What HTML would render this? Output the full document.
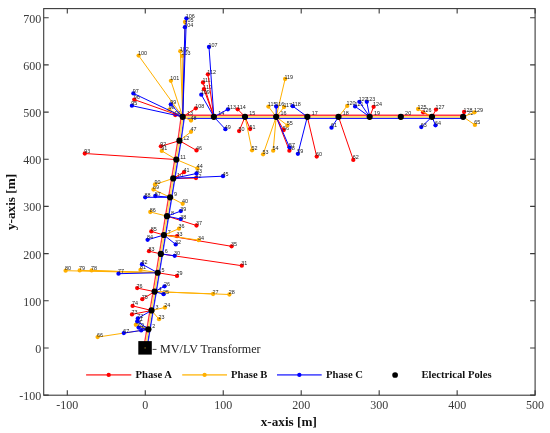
<!DOCTYPE html>
<html><head><meta charset="utf-8"><title>Network</title>
<style>html,body{margin:0;padding:0;background:#fff;}svg{display:block;filter:blur(0.25px);}.l{font-family:'Liberation Sans',Arial,sans-serif;font-size:5.6px;fill:#222;}</style></head>
<body><svg width="550" height="433" viewBox="0 0 550 433">
<rect width="550" height="433" fill="#fff"/>
<polyline points="143.82,347.55 146.94,329.09 150.04,310.23 153.14,291.36 156.24,272.5 159.34,253.64 162.44,234.77 165.54,215.91 168.64,197.04 171.74,178.18 174.84,159.32 177.94,140.47 181.39,115.3 213.86,115.3 245.02,115.3 276.18,115.3 307.34,115.3 338.5,115.3 369.66,115.3 400.82,115.3 431.98,115.3 463.14,115.3" fill="none" stroke="#ff3548" stroke-width="1.4" stroke-linejoin="miter"/>
<polyline points="146.83,348.06 149.94,329.59 153.05,310.72 156.15,291.86 159.25,273 162.35,254.13 165.45,235.27 168.55,216.4 171.65,197.54 174.75,178.68 177.85,159.81 180.96,140.93 184.05,118.35 213.86,118.35 245.02,118.35 276.18,118.35 307.34,118.35 338.5,118.35 369.66,118.35 400.82,118.35 431.98,118.35 463.14,118.35" fill="none" stroke="#1f1fff" stroke-width="1.5" stroke-linejoin="miter"/>
<polyline points="145.3,347.8 148.42,329.34 151.52,310.47 154.62,291.61 157.72,272.74 160.82,253.88 163.92,235.02 167.02,216.15 170.12,197.29 173.22,178.42 176.33,159.56 179.43,140.7 182.7,116.8 213.86,116.8 245.02,116.8 276.18,116.8 307.34,116.8 338.5,116.8 369.66,116.8 400.82,116.8 431.98,116.8 463.14,116.8" fill="none" stroke="#ffe066" stroke-width="1.7" stroke-linejoin="miter"/>
<text class="l" transform="translate(152.32,328.34) scale(0.97,1)">2</text><text class="l" transform="translate(155.42,309.47) scale(0.97,1)">3</text><text class="l" transform="translate(158.52,290.61) scale(0.97,1)">4</text><text class="l" transform="translate(161.62,271.74) scale(0.97,1)">5</text><text class="l" transform="translate(164.72,252.88) scale(0.97,1)">6</text><text class="l" transform="translate(167.82,234.02) scale(0.97,1)">7</text><text class="l" transform="translate(170.92,215.15) scale(0.97,1)">8</text><text class="l" transform="translate(174.02,196.29) scale(0.97,1)">9</text><text class="l" transform="translate(177.12,177.42) scale(0.97,1)">10</text><text class="l" transform="translate(180.23,158.56) scale(0.97,1)">11</text><text class="l" transform="translate(183.33,139.7) scale(0.97,1)">12</text><text class="l" transform="translate(187,114.8) scale(0.97,1)">13</text><text class="l" transform="translate(218.16,114.8) scale(0.97,1)">14</text><text class="l" transform="translate(249.32,114.8) scale(0.97,1)">15</text><text class="l" transform="translate(280.48,114.8) scale(0.97,1)">16</text><text class="l" transform="translate(311.64,114.8) scale(0.97,1)">17</text><text class="l" transform="translate(342.8,114.8) scale(0.97,1)">18</text><text class="l" transform="translate(373.96,114.8) scale(0.97,1)">19</text><text class="l" transform="translate(405.12,114.8) scale(0.97,1)">20</text><text class="l" transform="translate(467.44,114.8) scale(0.97,1)">22</text>
<line x1="157.72" y1="272.74" x2="177" y2="275.9" stroke="#ff0000" stroke-width="1"/>
<circle cx="177" cy="275.9" r="2.15" fill="#ff0000"/>
<text class="l" transform="translate(176.4,275.4) scale(0.97,1)">29</text>
<line x1="160.82" y1="253.88" x2="241.8" y2="265.7" stroke="#ff0000" stroke-width="1"/>
<circle cx="241.8" cy="265.7" r="2.15" fill="#ff0000"/>
<text class="l" transform="translate(241.2,265.2) scale(0.97,1)">31</text>
<line x1="163.92" y1="235.02" x2="177.1" y2="236.2" stroke="#ff0000" stroke-width="1"/>
<circle cx="177.1" cy="236.2" r="2.15" fill="#ff0000"/>
<text class="l" transform="translate(176.5,235.7) scale(0.97,1)">33</text>
<line x1="163.92" y1="235.02" x2="231.6" y2="246.3" stroke="#ff0000" stroke-width="1"/>
<circle cx="231.6" cy="246.3" r="2.15" fill="#ff0000"/>
<text class="l" transform="translate(231,245.8) scale(0.97,1)">35</text>
<line x1="167.02" y1="216.15" x2="196.5" y2="225.5" stroke="#ff0000" stroke-width="1"/>
<circle cx="196.5" cy="225.5" r="2.15" fill="#ff0000"/>
<text class="l" transform="translate(195.9,225) scale(0.97,1)">37</text>
<line x1="173.22" y1="178.42" x2="184" y2="172.2" stroke="#ff0000" stroke-width="1"/>
<circle cx="184" cy="172.2" r="2.15" fill="#ff0000"/>
<text class="l" transform="translate(183.4,171.7) scale(0.97,1)">41</text>
<line x1="173.22" y1="178.42" x2="196" y2="178.1" stroke="#ff0000" stroke-width="1"/>
<circle cx="196" cy="178.1" r="2.15" fill="#ff0000"/>
<text class="l" transform="translate(195.4,177.6) scale(0.97,1)">42</text>
<line x1="179.43" y1="140.7" x2="196.5" y2="150.4" stroke="#ff0000" stroke-width="1"/>
<circle cx="196.5" cy="150.4" r="2.15" fill="#ff0000"/>
<text class="l" transform="translate(195.9,149.9) scale(0.97,1)">46</text>
<line x1="245.02" y1="116.8" x2="239.1" y2="131.1" stroke="#ff0000" stroke-width="1"/>
<circle cx="239.1" cy="131.1" r="2.15" fill="#ff0000"/>
<text class="l" transform="translate(238.5,130.6) scale(0.97,1)">50</text>
<line x1="245.02" y1="116.8" x2="250.1" y2="129" stroke="#ff0000" stroke-width="1"/>
<circle cx="250.1" cy="129" r="2.15" fill="#ff0000"/>
<text class="l" transform="translate(249.5,128.5) scale(0.97,1)">51</text>
<line x1="276.18" y1="116.8" x2="283.7" y2="130" stroke="#ff0000" stroke-width="1"/>
<circle cx="283.7" cy="130" r="2.15" fill="#ff0000"/>
<text class="l" transform="translate(283.1,129.5) scale(0.97,1)">56</text>
<line x1="276.18" y1="116.8" x2="289.4" y2="150.7" stroke="#ff0000" stroke-width="1"/>
<circle cx="289.4" cy="150.7" r="2.15" fill="#ff0000"/>
<text class="l" transform="translate(288.8,150.2) scale(0.97,1)">58</text>
<line x1="307.34" y1="116.8" x2="316.7" y2="156.6" stroke="#ff0000" stroke-width="1"/>
<circle cx="316.7" cy="156.6" r="2.15" fill="#ff0000"/>
<text class="l" transform="translate(316.1,156.1) scale(0.97,1)">60</text>
<line x1="338.5" y1="116.8" x2="353.3" y2="159.9" stroke="#ff0000" stroke-width="1"/>
<circle cx="353.3" cy="159.9" r="2.15" fill="#ff0000"/>
<text class="l" transform="translate(352.7,159.4) scale(0.97,1)">62</text>
<line x1="151.52" y1="310.47" x2="132" y2="314.4" stroke="#ff0000" stroke-width="1"/>
<circle cx="132" cy="314.4" r="2.15" fill="#ff0000"/>
<text class="l" transform="translate(131.4,313.9) scale(0.97,1)">73</text>
<line x1="151.52" y1="310.47" x2="132.6" y2="305.9" stroke="#ff0000" stroke-width="1"/>
<circle cx="132.6" cy="305.9" r="2.15" fill="#ff0000"/>
<text class="l" transform="translate(132,305.4) scale(0.97,1)">74</text>
<line x1="154.62" y1="291.61" x2="142.3" y2="299.2" stroke="#ff0000" stroke-width="1"/>
<circle cx="142.3" cy="299.2" r="2.15" fill="#ff0000"/>
<text class="l" transform="translate(141.7,298.7) scale(0.97,1)">75</text>
<line x1="154.62" y1="291.61" x2="137.2" y2="288.1" stroke="#ff0000" stroke-width="1"/>
<circle cx="137.2" cy="288.1" r="2.15" fill="#ff0000"/>
<text class="l" transform="translate(136.6,287.6) scale(0.97,1)">76</text>
<line x1="160.82" y1="253.88" x2="149" y2="251.2" stroke="#ff0000" stroke-width="1"/>
<circle cx="149" cy="251.2" r="2.15" fill="#ff0000"/>
<text class="l" transform="translate(148.4,250.7) scale(0.97,1)">83</text>
<line x1="163.92" y1="235.02" x2="151.3" y2="231.4" stroke="#ff0000" stroke-width="1"/>
<circle cx="151.3" cy="231.4" r="2.15" fill="#ff0000"/>
<text class="l" transform="translate(150.7,230.9) scale(0.97,1)">85</text>
<line x1="179.43" y1="140.7" x2="160.9" y2="146.3" stroke="#ff0000" stroke-width="1"/>
<circle cx="160.9" cy="146.3" r="2.15" fill="#ff0000"/>
<text class="l" transform="translate(160.3,145.8) scale(0.97,1)">92</text>
<line x1="176.33" y1="159.56" x2="84.8" y2="153.5" stroke="#ff0000" stroke-width="1"/>
<circle cx="84.8" cy="153.5" r="2.15" fill="#ff0000"/>
<text class="l" transform="translate(84.2,153) scale(0.97,1)">93</text>
<line x1="182.7" y1="116.8" x2="175.3" y2="115" stroke="#ff0000" stroke-width="1"/>
<circle cx="175.3" cy="115" r="2.15" fill="#ff0000"/>
<text class="l" transform="translate(174.7,114.5) scale(0.97,1)">94</text>
<line x1="182.7" y1="116.8" x2="134.3" y2="99.6" stroke="#ff0000" stroke-width="1"/>
<circle cx="134.3" cy="99.6" r="2.15" fill="#ff0000"/>
<text class="l" transform="translate(133.7,99.1) scale(0.97,1)">96</text>
<line x1="182.7" y1="116.8" x2="195.8" y2="108.3" stroke="#ff0000" stroke-width="1"/>
<circle cx="195.8" cy="108.3" r="2.15" fill="#ff0000"/>
<text class="l" transform="translate(195.2,107.8) scale(0.97,1)">108</text>
<line x1="213.86" y1="116.8" x2="203.9" y2="89.1" stroke="#ff0000" stroke-width="1"/>
<circle cx="203.9" cy="89.1" r="2.15" fill="#ff0000"/>
<text class="l" transform="translate(203.3,88.6) scale(0.97,1)">110</text>
<line x1="213.86" y1="116.8" x2="203" y2="82.5" stroke="#ff0000" stroke-width="1"/>
<circle cx="203" cy="82.5" r="2.15" fill="#ff0000"/>
<text class="l" transform="translate(202.4,82) scale(0.97,1)">111</text>
<line x1="213.86" y1="116.8" x2="207.9" y2="74.3" stroke="#ff0000" stroke-width="1"/>
<circle cx="207.9" cy="74.3" r="2.15" fill="#ff0000"/>
<text class="l" transform="translate(207.3,73.8) scale(0.97,1)">112</text>
<line x1="245.02" y1="116.8" x2="237.7" y2="109.3" stroke="#ff0000" stroke-width="1"/>
<circle cx="237.7" cy="109.3" r="2.15" fill="#ff0000"/>
<text class="l" transform="translate(237.1,108.8) scale(0.97,1)">114</text>
<line x1="369.66" y1="116.8" x2="373.6" y2="106.8" stroke="#ff0000" stroke-width="1"/>
<circle cx="373.6" cy="106.8" r="2.15" fill="#ff0000"/>
<text class="l" transform="translate(373,106.3) scale(0.97,1)">124</text>
<line x1="431.98" y1="116.8" x2="423.1" y2="112.3" stroke="#ff0000" stroke-width="1"/>
<circle cx="423.1" cy="112.3" r="2.15" fill="#ff0000"/>
<text class="l" transform="translate(422.5,111.8) scale(0.97,1)">126</text>
<line x1="431.98" y1="116.8" x2="436" y2="109.6" stroke="#ff0000" stroke-width="1"/>
<circle cx="436" cy="109.6" r="2.15" fill="#ff0000"/>
<text class="l" transform="translate(435.4,109.1) scale(0.97,1)">127</text>
<line x1="463.14" y1="116.8" x2="464.1" y2="112" stroke="#ff0000" stroke-width="1"/>
<circle cx="464.1" cy="112" r="2.15" fill="#ff0000"/>
<text class="l" transform="translate(463.5,111.5) scale(0.97,1)">128</text>
<line x1="151.52" y1="310.47" x2="159" y2="319.2" stroke="#ffb000" stroke-width="1"/>
<circle cx="159" cy="319.2" r="2.15" fill="#ffb000"/>
<text class="l" transform="translate(158.4,318.7) scale(0.97,1)">23</text>
<line x1="151.52" y1="310.47" x2="164.9" y2="307.5" stroke="#ffb000" stroke-width="1"/>
<circle cx="164.9" cy="307.5" r="2.15" fill="#ffb000"/>
<text class="l" transform="translate(164.3,307) scale(0.97,1)">24</text>
<line x1="154.62" y1="291.61" x2="213.1" y2="294" stroke="#ffb000" stroke-width="1"/>
<circle cx="213.1" cy="294" r="2.15" fill="#ffb000"/>
<text class="l" transform="translate(212.5,293.5) scale(0.97,1)">27</text>
<line x1="154.62" y1="291.61" x2="229.4" y2="294.5" stroke="#ffb000" stroke-width="1"/>
<circle cx="229.4" cy="294.5" r="2.15" fill="#ffb000"/>
<text class="l" transform="translate(228.8,294) scale(0.97,1)">28</text>
<line x1="163.92" y1="235.02" x2="198.7" y2="240.2" stroke="#ffb000" stroke-width="1"/>
<circle cx="198.7" cy="240.2" r="2.15" fill="#ffb000"/>
<text class="l" transform="translate(198.1,239.7) scale(0.97,1)">34</text>
<line x1="163.92" y1="235.02" x2="179" y2="228.7" stroke="#ffb000" stroke-width="1"/>
<circle cx="179" cy="228.7" r="2.15" fill="#ffb000"/>
<text class="l" transform="translate(178.4,228.2) scale(0.97,1)">36</text>
<line x1="170.12" y1="197.29" x2="182.7" y2="203.8" stroke="#ffb000" stroke-width="1"/>
<circle cx="182.7" cy="203.8" r="2.15" fill="#ffb000"/>
<text class="l" transform="translate(182.1,203.3) scale(0.97,1)">40</text>
<line x1="176.33" y1="159.56" x2="197.4" y2="168.4" stroke="#ffb000" stroke-width="1"/>
<circle cx="197.4" cy="168.4" r="2.15" fill="#ffb000"/>
<text class="l" transform="translate(196.8,167.9) scale(0.97,1)">44</text>
<line x1="179.43" y1="140.7" x2="191" y2="131.8" stroke="#ffb000" stroke-width="1"/>
<circle cx="191" cy="131.8" r="2.15" fill="#ffb000"/>
<text class="l" transform="translate(190.4,131.3) scale(0.97,1)">47</text>
<line x1="182.7" y1="116.8" x2="191" y2="120.5" stroke="#ffb000" stroke-width="1"/>
<circle cx="191" cy="120.5" r="2.15" fill="#ffb000"/>
<text class="l" transform="translate(190.4,120) scale(0.97,1)">48</text>
<line x1="245.02" y1="116.8" x2="252" y2="150.3" stroke="#ffb000" stroke-width="1"/>
<circle cx="252" cy="150.3" r="2.15" fill="#ffb000"/>
<text class="l" transform="translate(251.4,149.8) scale(0.97,1)">52</text>
<line x1="276.18" y1="116.8" x2="263.1" y2="154.3" stroke="#ffb000" stroke-width="1"/>
<circle cx="263.1" cy="154.3" r="2.15" fill="#ffb000"/>
<text class="l" transform="translate(262.5,153.8) scale(0.97,1)">53</text>
<line x1="276.18" y1="116.8" x2="273.2" y2="150.7" stroke="#ffb000" stroke-width="1"/>
<circle cx="273.2" cy="150.7" r="2.15" fill="#ffb000"/>
<text class="l" transform="translate(272.6,150.2) scale(0.97,1)">54</text>
<line x1="276.18" y1="116.8" x2="287.4" y2="125.4" stroke="#ffb000" stroke-width="1"/>
<circle cx="287.4" cy="125.4" r="2.15" fill="#ffb000"/>
<text class="l" transform="translate(286.8,124.9) scale(0.97,1)">55</text>
<line x1="463.14" y1="116.8" x2="474.9" y2="124.9" stroke="#ffb000" stroke-width="1"/>
<circle cx="474.9" cy="124.9" r="2.15" fill="#ffb000"/>
<text class="l" transform="translate(474.3,124.4) scale(0.97,1)">65</text>
<line x1="148.42" y1="329.34" x2="97.6" y2="337.1" stroke="#ffb000" stroke-width="1"/>
<circle cx="97.6" cy="337.1" r="2.15" fill="#ffb000"/>
<text class="l" transform="translate(97,336.6) scale(0.97,1)">66</text>
<line x1="148.42" y1="329.34" x2="135.8" y2="324.8" stroke="#ffb000" stroke-width="1"/>
<circle cx="135.8" cy="324.8" r="2.15" fill="#ffb000"/>
<text class="l" transform="translate(135.2,324.3) scale(0.97,1)">68</text>
<line x1="157.72" y1="272.74" x2="91.6" y2="270.4" stroke="#ffb000" stroke-width="1"/>
<circle cx="91.6" cy="270.4" r="2.15" fill="#ffb000"/>
<text class="l" transform="translate(91,269.9) scale(0.97,1)">78</text>
<line x1="157.72" y1="272.74" x2="79.7" y2="270.4" stroke="#ffb000" stroke-width="1"/>
<circle cx="79.7" cy="270.4" r="2.15" fill="#ffb000"/>
<text class="l" transform="translate(79.1,269.9) scale(0.97,1)">79</text>
<line x1="157.72" y1="272.74" x2="65.6" y2="270.7" stroke="#ffb000" stroke-width="1"/>
<circle cx="65.6" cy="270.7" r="2.15" fill="#ffb000"/>
<text class="l" transform="translate(65,270.2) scale(0.97,1)">80</text>
<line x1="157.72" y1="272.74" x2="140.5" y2="269.9" stroke="#ffb000" stroke-width="1"/>
<circle cx="140.5" cy="269.9" r="2.15" fill="#ffb000"/>
<text class="l" transform="translate(139.9,269.4) scale(0.97,1)">81</text>
<line x1="167.02" y1="216.15" x2="150.3" y2="212" stroke="#ffb000" stroke-width="1"/>
<circle cx="150.3" cy="212" r="2.15" fill="#ffb000"/>
<text class="l" transform="translate(149.7,211.5) scale(0.97,1)">86</text>
<line x1="170.12" y1="197.29" x2="153.5" y2="189.5" stroke="#ffb000" stroke-width="1"/>
<circle cx="153.5" cy="189.5" r="2.15" fill="#ffb000"/>
<text class="l" transform="translate(152.9,189) scale(0.97,1)">89</text>
<line x1="173.22" y1="178.42" x2="155" y2="184.5" stroke="#ffb000" stroke-width="1"/>
<circle cx="155" cy="184.5" r="2.15" fill="#ffb000"/>
<text class="l" transform="translate(154.4,184) scale(0.97,1)">90</text>
<line x1="176.33" y1="159.56" x2="161.8" y2="150.9" stroke="#ffb000" stroke-width="1"/>
<circle cx="161.8" cy="150.9" r="2.15" fill="#ffb000"/>
<text class="l" transform="translate(161.2,150.4) scale(0.97,1)">91</text>
<line x1="182.7" y1="116.8" x2="169.3" y2="109.7" stroke="#ffb000" stroke-width="1"/>
<circle cx="169.3" cy="109.7" r="2.15" fill="#ffb000"/>
<text class="l" transform="translate(168.7,109.2) scale(0.97,1)">98</text>
<line x1="182.7" y1="116.8" x2="138.6" y2="55.6" stroke="#ffb000" stroke-width="1"/>
<circle cx="138.6" cy="55.6" r="2.15" fill="#ffb000"/>
<text class="l" transform="translate(138,55.1) scale(0.97,1)">100</text>
<line x1="182.7" y1="116.8" x2="170.9" y2="80.8" stroke="#ffb000" stroke-width="1"/>
<circle cx="170.9" cy="80.8" r="2.15" fill="#ffb000"/>
<text class="l" transform="translate(170.3,80.3) scale(0.97,1)">101</text>
<line x1="182.7" y1="116.8" x2="180.3" y2="51.2" stroke="#ffb000" stroke-width="1"/>
<circle cx="180.3" cy="51.2" r="2.15" fill="#ffb000"/>
<text class="l" transform="translate(179.7,50.7) scale(0.97,1)">102</text>
<line x1="182.7" y1="116.8" x2="182.2" y2="55.9" stroke="#ffb000" stroke-width="1"/>
<circle cx="182.2" cy="55.9" r="2.15" fill="#ffb000"/>
<text class="l" transform="translate(181.6,55.4) scale(0.97,1)">103</text>
<line x1="182.7" y1="116.8" x2="185" y2="22" stroke="#ffb000" stroke-width="1"/>
<circle cx="185" cy="22" r="2.15" fill="#ffb000"/>
<text class="l" transform="translate(184.4,21.5) scale(0.97,1)">105</text>
<line x1="276.18" y1="116.8" x2="268.4" y2="106.6" stroke="#ffb000" stroke-width="1"/>
<circle cx="268.4" cy="106.6" r="2.15" fill="#ffb000"/>
<text class="l" transform="translate(267.8,106.1) scale(0.97,1)">115</text>
<line x1="276.18" y1="116.8" x2="284" y2="107.1" stroke="#ffb000" stroke-width="1"/>
<circle cx="284" cy="107.1" r="2.15" fill="#ffb000"/>
<text class="l" transform="translate(283.4,106.6) scale(0.97,1)">117</text>
<line x1="276.18" y1="116.8" x2="285.1" y2="79" stroke="#ffb000" stroke-width="1"/>
<circle cx="285.1" cy="79" r="2.15" fill="#ffb000"/>
<text class="l" transform="translate(284.5,78.5) scale(0.97,1)">119</text>
<line x1="338.5" y1="116.8" x2="347.2" y2="105.9" stroke="#ffb000" stroke-width="1"/>
<circle cx="347.2" cy="105.9" r="2.15" fill="#ffb000"/>
<text class="l" transform="translate(346.6,105.4) scale(0.97,1)">120</text>
<line x1="431.98" y1="116.8" x2="418.1" y2="109" stroke="#ffb000" stroke-width="1"/>
<circle cx="418.1" cy="109" r="2.15" fill="#ffb000"/>
<text class="l" transform="translate(417.5,108.5) scale(0.97,1)">125</text>
<line x1="463.14" y1="116.8" x2="474.5" y2="112.3" stroke="#ffb000" stroke-width="1"/>
<circle cx="474.5" cy="112.3" r="2.15" fill="#ffb000"/>
<text class="l" transform="translate(473.9,111.8) scale(0.97,1)">129</text>
<line x1="154.62" y1="291.61" x2="163.6" y2="294.2" stroke="#0000ff" stroke-width="1"/>
<circle cx="163.6" cy="294.2" r="2.15" fill="#0000ff"/>
<text class="l" transform="translate(163,293.7) scale(0.97,1)">25</text>
<line x1="154.62" y1="291.61" x2="164.5" y2="286.3" stroke="#0000ff" stroke-width="1"/>
<circle cx="164.5" cy="286.3" r="2.15" fill="#0000ff"/>
<text class="l" transform="translate(163.9,285.8) scale(0.97,1)">26</text>
<line x1="160.82" y1="253.88" x2="174.7" y2="255.8" stroke="#0000ff" stroke-width="1"/>
<circle cx="174.7" cy="255.8" r="2.15" fill="#0000ff"/>
<text class="l" transform="translate(174.1,255.3) scale(0.97,1)">30</text>
<line x1="163.92" y1="235.02" x2="175.7" y2="244.4" stroke="#0000ff" stroke-width="1"/>
<circle cx="175.7" cy="244.4" r="2.15" fill="#0000ff"/>
<text class="l" transform="translate(175.1,243.9) scale(0.97,1)">32</text>
<line x1="167.02" y1="216.15" x2="180.8" y2="219.1" stroke="#0000ff" stroke-width="1"/>
<circle cx="180.8" cy="219.1" r="2.15" fill="#0000ff"/>
<text class="l" transform="translate(180.2,218.6) scale(0.97,1)">38</text>
<line x1="167.02" y1="216.15" x2="180.8" y2="211.1" stroke="#0000ff" stroke-width="1"/>
<circle cx="180.8" cy="211.1" r="2.15" fill="#0000ff"/>
<text class="l" transform="translate(180.2,210.6) scale(0.97,1)">39</text>
<line x1="173.22" y1="178.42" x2="196.5" y2="173.5" stroke="#0000ff" stroke-width="1"/>
<circle cx="196.5" cy="173.5" r="2.15" fill="#0000ff"/>
<text class="l" transform="translate(195.9,173) scale(0.97,1)">43</text>
<line x1="173.22" y1="178.42" x2="223" y2="176.2" stroke="#0000ff" stroke-width="1"/>
<circle cx="223" cy="176.2" r="2.15" fill="#0000ff"/>
<text class="l" transform="translate(222.4,175.7) scale(0.97,1)">45</text>
<line x1="213.86" y1="116.8" x2="225.4" y2="129.2" stroke="#0000ff" stroke-width="1"/>
<circle cx="225.4" cy="129.2" r="2.15" fill="#0000ff"/>
<text class="l" transform="translate(224.8,128.7) scale(0.97,1)">49</text>
<line x1="276.18" y1="116.8" x2="289.5" y2="147.3" stroke="#0000ff" stroke-width="1"/>
<circle cx="289.5" cy="147.3" r="2.15" fill="#0000ff"/>
<text class="l" transform="translate(288.9,146.8) scale(0.97,1)">57</text>
<line x1="307.34" y1="116.8" x2="297.9" y2="153.8" stroke="#0000ff" stroke-width="1"/>
<circle cx="297.9" cy="153.8" r="2.15" fill="#0000ff"/>
<text class="l" transform="translate(297.3,153.3) scale(0.97,1)">59</text>
<line x1="338.5" y1="116.8" x2="331.5" y2="127.7" stroke="#0000ff" stroke-width="1"/>
<circle cx="331.5" cy="127.7" r="2.15" fill="#0000ff"/>
<text class="l" transform="translate(330.9,127.2) scale(0.97,1)">61</text>
<line x1="431.98" y1="116.8" x2="421.3" y2="127.1" stroke="#0000ff" stroke-width="1"/>
<circle cx="421.3" cy="127.1" r="2.15" fill="#0000ff"/>
<text class="l" transform="translate(420.7,126.6) scale(0.97,1)">63</text>
<line x1="431.98" y1="116.8" x2="435.5" y2="125.3" stroke="#0000ff" stroke-width="1"/>
<circle cx="435.5" cy="125.3" r="2.15" fill="#0000ff"/>
<text class="l" transform="translate(434.9,124.8) scale(0.97,1)">64</text>
<line x1="148.42" y1="329.34" x2="123.8" y2="333.1" stroke="#0000ff" stroke-width="1"/>
<circle cx="123.8" cy="333.1" r="2.15" fill="#0000ff"/>
<text class="l" transform="translate(123.2,332.6) scale(0.97,1)">67</text>
<line x1="148.42" y1="329.34" x2="138.6" y2="327.6" stroke="#0000ff" stroke-width="1"/>
<circle cx="138.6" cy="327.6" r="2.15" fill="#0000ff"/>
<text class="l" transform="translate(138,327.1) scale(0.97,1)">69</text>
<line x1="148.42" y1="329.34" x2="141.2" y2="330.4" stroke="#0000ff" stroke-width="1"/>
<circle cx="141.2" cy="330.4" r="2.15" fill="#0000ff"/>
<text class="l" transform="translate(140.6,329.9) scale(0.97,1)">70</text>
<line x1="148.42" y1="329.34" x2="137.4" y2="321.2" stroke="#0000ff" stroke-width="1"/>
<circle cx="137.4" cy="321.2" r="2.15" fill="#0000ff"/>
<text class="l" transform="translate(136.8,320.7) scale(0.97,1)">71</text>
<line x1="151.52" y1="310.47" x2="137.9" y2="318.3" stroke="#0000ff" stroke-width="1"/>
<circle cx="137.9" cy="318.3" r="2.15" fill="#0000ff"/>
<text class="l" transform="translate(137.3,317.8) scale(0.97,1)">72</text>
<line x1="157.72" y1="272.74" x2="118.5" y2="273.7" stroke="#0000ff" stroke-width="1"/>
<circle cx="118.5" cy="273.7" r="2.15" fill="#0000ff"/>
<text class="l" transform="translate(117.9,273.2) scale(0.97,1)">77</text>
<line x1="157.72" y1="272.74" x2="142" y2="264.2" stroke="#0000ff" stroke-width="1"/>
<circle cx="142" cy="264.2" r="2.15" fill="#0000ff"/>
<text class="l" transform="translate(141.4,263.7) scale(0.97,1)">82</text>
<line x1="163.92" y1="235.02" x2="147.6" y2="239.8" stroke="#0000ff" stroke-width="1"/>
<circle cx="147.6" cy="239.8" r="2.15" fill="#0000ff"/>
<text class="l" transform="translate(147,239.3) scale(0.97,1)">84</text>
<line x1="170.12" y1="197.29" x2="155.3" y2="196" stroke="#0000ff" stroke-width="1"/>
<circle cx="155.3" cy="196" r="2.15" fill="#0000ff"/>
<text class="l" transform="translate(154.7,195.5) scale(0.97,1)">87</text>
<line x1="170.12" y1="197.29" x2="145.2" y2="197.3" stroke="#0000ff" stroke-width="1"/>
<circle cx="145.2" cy="197.3" r="2.15" fill="#0000ff"/>
<text class="l" transform="translate(144.6,196.8) scale(0.97,1)">88</text>
<line x1="182.7" y1="116.8" x2="131.9" y2="105.7" stroke="#0000ff" stroke-width="1"/>
<circle cx="131.9" cy="105.7" r="2.15" fill="#0000ff"/>
<text class="l" transform="translate(131.3,105.2) scale(0.97,1)">95</text>
<line x1="182.7" y1="116.8" x2="133.4" y2="93.4" stroke="#0000ff" stroke-width="1"/>
<circle cx="133.4" cy="93.4" r="2.15" fill="#0000ff"/>
<text class="l" transform="translate(132.8,92.9) scale(0.97,1)">97</text>
<line x1="182.7" y1="116.8" x2="170.8" y2="104.3" stroke="#0000ff" stroke-width="1"/>
<circle cx="170.8" cy="104.3" r="2.15" fill="#0000ff"/>
<text class="l" transform="translate(170.2,103.8) scale(0.97,1)">99</text>
<line x1="182.7" y1="116.8" x2="184.9" y2="27.2" stroke="#0000ff" stroke-width="1"/>
<circle cx="184.9" cy="27.2" r="2.15" fill="#0000ff"/>
<text class="l" transform="translate(184.3,26.7) scale(0.97,1)">104</text>
<line x1="182.7" y1="116.8" x2="186.4" y2="18.3" stroke="#0000ff" stroke-width="1"/>
<circle cx="186.4" cy="18.3" r="2.15" fill="#0000ff"/>
<text class="l" transform="translate(185.8,17.8) scale(0.97,1)">106</text>
<line x1="213.86" y1="116.8" x2="209" y2="47" stroke="#0000ff" stroke-width="1"/>
<circle cx="209" cy="47" r="2.15" fill="#0000ff"/>
<text class="l" transform="translate(208.4,46.5) scale(0.97,1)">107</text>
<line x1="213.86" y1="116.8" x2="201.3" y2="94.7" stroke="#0000ff" stroke-width="1"/>
<circle cx="201.3" cy="94.7" r="2.15" fill="#0000ff"/>
<text class="l" transform="translate(200.7,94.2) scale(0.97,1)">109</text>
<line x1="213.86" y1="116.8" x2="227.9" y2="109.3" stroke="#0000ff" stroke-width="1"/>
<circle cx="227.9" cy="109.3" r="2.15" fill="#0000ff"/>
<text class="l" transform="translate(227.3,108.8) scale(0.97,1)">113</text>
<line x1="276.18" y1="116.8" x2="276.2" y2="106.5" stroke="#0000ff" stroke-width="1"/>
<circle cx="276.2" cy="106.5" r="2.15" fill="#0000ff"/>
<text class="l" transform="translate(275.6,106) scale(0.97,1)">116</text>
<line x1="307.34" y1="116.8" x2="292.8" y2="106.2" stroke="#0000ff" stroke-width="1"/>
<circle cx="292.8" cy="106.2" r="2.15" fill="#0000ff"/>
<text class="l" transform="translate(292.2,105.7) scale(0.97,1)">118</text>
<line x1="369.66" y1="116.8" x2="355.1" y2="106.4" stroke="#0000ff" stroke-width="1"/>
<circle cx="355.1" cy="106.4" r="2.15" fill="#0000ff"/>
<text class="l" transform="translate(354.5,105.9) scale(0.97,1)">121</text>
<line x1="369.66" y1="116.8" x2="359.4" y2="101.8" stroke="#0000ff" stroke-width="1"/>
<circle cx="359.4" cy="101.8" r="2.15" fill="#0000ff"/>
<text class="l" transform="translate(358.8,101.3) scale(0.97,1)">122</text>
<line x1="369.66" y1="116.8" x2="366.8" y2="101.8" stroke="#0000ff" stroke-width="1"/>
<circle cx="366.8" cy="101.8" r="2.15" fill="#0000ff"/>
<text class="l" transform="translate(366.2,101.3) scale(0.97,1)">123</text>
<rect x="138.3" y="341.1" width="13.5" height="13.5" fill="#000"/>
<circle cx="145.1" cy="347.9" r="0.6" fill="#b09030"/>
<circle cx="148.42" cy="329.34" r="3.1" fill="#000"/>
<circle cx="151.52" cy="310.47" r="3.1" fill="#000"/>
<circle cx="154.62" cy="291.61" r="3.1" fill="#000"/>
<circle cx="157.72" cy="272.74" r="3.1" fill="#000"/>
<circle cx="160.82" cy="253.88" r="3.1" fill="#000"/>
<circle cx="163.92" cy="235.02" r="3.1" fill="#000"/>
<circle cx="167.02" cy="216.15" r="3.1" fill="#000"/>
<circle cx="170.12" cy="197.29" r="3.1" fill="#000"/>
<circle cx="173.22" cy="178.42" r="3.1" fill="#000"/>
<circle cx="176.33" cy="159.56" r="3.1" fill="#000"/>
<circle cx="179.43" cy="140.7" r="3.1" fill="#000"/>
<circle cx="182.7" cy="116.8" r="3.1" fill="#000"/>
<circle cx="213.86" cy="116.8" r="3.1" fill="#000"/>
<circle cx="245.02" cy="116.8" r="3.1" fill="#000"/>
<circle cx="276.18" cy="116.8" r="3.1" fill="#000"/>
<circle cx="307.34" cy="116.8" r="3.1" fill="#000"/>
<circle cx="338.5" cy="116.8" r="3.1" fill="#000"/>
<circle cx="369.66" cy="116.8" r="3.1" fill="#000"/>
<circle cx="400.82" cy="116.8" r="3.1" fill="#000"/>
<circle cx="431.98" cy="116.8" r="3.1" fill="#000"/>
<circle cx="463.14" cy="116.8" r="3.1" fill="#000"/>
<line x1="152.6" y1="349.4" x2="156.5" y2="349.4" stroke="#333" stroke-width="0.9"/>
<text x="160.1" y="353.3" font-family="Liberation Serif, serif" font-size="12.1" fill="#222">MV/LV Transformer</text>
<rect x="43.7" y="8.6" width="491.40000000000003" height="386.59999999999997" fill="none" stroke="#3a3a3a" stroke-width="1.1"/>
<path d="M67.3 395.2V390.2M67.3 8.6V13.6M145.27 395.2V390.2M145.27 8.6V13.6M223.24 395.2V390.2M223.24 8.6V13.6M301.21 395.2V390.2M301.21 8.6V13.6M379.18 395.2V390.2M379.18 8.6V13.6M457.15 395.2V390.2M457.15 8.6V13.6M535.12 395.2V390.2M535.12 8.6V13.6M43.7 395.1H48.7M535.1 395.1H530.1M43.7 347.93H48.7M535.1 347.93H530.1M43.7 300.76H48.7M535.1 300.76H530.1M43.7 253.59H48.7M535.1 253.59H530.1M43.7 206.42H48.7M535.1 206.42H530.1M43.7 159.25H48.7M535.1 159.25H530.1M43.7 112.08H48.7M535.1 112.08H530.1M43.7 64.91H48.7M535.1 64.91H530.1M43.7 17.74H48.7M535.1 17.74H530.1" stroke="#3a3a3a" stroke-width="1.1" fill="none"/>
<g font-family="Liberation Serif, serif" font-size="12" fill="#3a3a3a"><text x="67.3" y="408.7" text-anchor="middle">-100</text><text x="145.27" y="408.7" text-anchor="middle">0</text><text x="223.24" y="408.7" text-anchor="middle">100</text><text x="301.21" y="408.7" text-anchor="middle">200</text><text x="379.18" y="408.7" text-anchor="middle">300</text><text x="457.15" y="408.7" text-anchor="middle">400</text><text x="535.12" y="408.7" text-anchor="middle">500</text><text x="41.2" y="400.1" text-anchor="end">-100</text><text x="41.2" y="352.93" text-anchor="end">0</text><text x="41.2" y="305.76" text-anchor="end">100</text><text x="41.2" y="258.59" text-anchor="end">200</text><text x="41.2" y="211.42" text-anchor="end">300</text><text x="41.2" y="164.25" text-anchor="end">400</text><text x="41.2" y="117.08" text-anchor="end">500</text><text x="41.2" y="69.91" text-anchor="end">600</text><text x="41.2" y="22.74" text-anchor="end">700</text></g>
<text x="288.8" y="425.5" text-anchor="middle" font-family="Liberation Serif, serif" font-weight="bold" font-size="13.2" fill="#111">x-axis [m]</text>
<text transform="translate(15.2,202.0) rotate(-90)" text-anchor="middle" font-family="Liberation Serif, serif" font-weight="bold" font-size="13.2" fill="#111">y-axis [m]</text>
<g font-family="Liberation Serif, serif" font-weight="bold" font-size="10.65" fill="#111"><line x1="86.1" y1="374.9" x2="131.3" y2="374.9" stroke="#ff5a5a" stroke-width="1.6"/><circle cx="108.7" cy="374.9" r="2.15" fill="#ff0000"/><text x="135.5" y="378.2">Phase A</text><line x1="182.2" y1="374.9" x2="227" y2="374.9" stroke="#ffc84a" stroke-width="1.6"/><circle cx="204.6" cy="374.9" r="2.15" fill="#ffb000"/><text x="231.10000000000002" y="378.2">Phase B</text><line x1="277" y1="374.9" x2="321.7" y2="374.9" stroke="#5a5aff" stroke-width="1.6"/><circle cx="299.35" cy="374.9" r="2.15" fill="#0000ff"/><text x="326.1" y="378.2">Phase C</text><circle cx="395.1" cy="375" r="2.85" fill="#000"/><text x="421.5" y="378.2">Electrical Poles</text></g>
</svg></body></html>
